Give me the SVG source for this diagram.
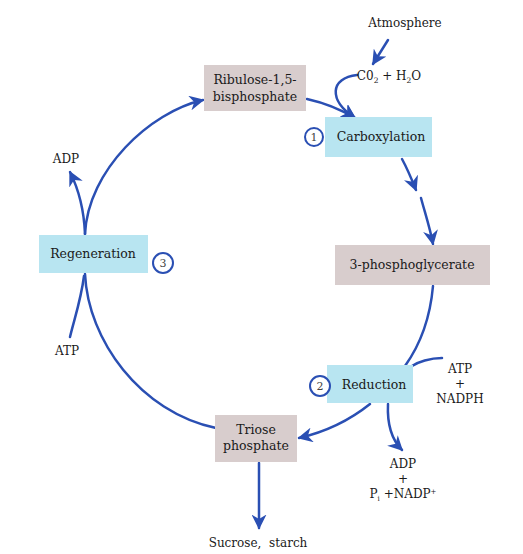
<svg xmlns="http://www.w3.org/2000/svg" width="523" height="554" viewBox="0 0 523 554">
<defs>
<marker id="ah" viewBox="0 0 10 10" refX="9" refY="5" markerWidth="6" markerHeight="6" orient="auto" markerUnits="strokeWidth">
<path d="M0,0 L10,5 L0,10 L3,5 z" fill="#2a4fb3"/>
</marker>
<style>
.t{font-family:"DejaVu Serif","Liberation Serif",serif;font-size:12.5px;fill:#1a1a1a;text-anchor:middle}
.s{font-family:"DejaVu Serif","Liberation Serif",serif;font-size:12px;fill:#1a1a1a;text-anchor:middle}
.grey{fill:#d8cdcd}
.cyan{fill:#b8e5f1}
.c{fill:#fff;stroke:#2a4fb3;stroke-width:2}
.n{font-family:"DejaVu Serif","Liberation Serif",serif;font-size:11px;fill:#444;text-anchor:middle}
.e{fill:none;stroke:#2a4fb3;stroke-width:2.5;stroke-linecap:round}
.ea{fill:none;stroke:#2a4fb3;stroke-width:2.5;stroke-linecap:round;marker-end:url(#ah)}
</style>
</defs>
<rect width="523" height="554" fill="#fff"/>
<g id="connectors">
<path class="ea" d="M388,40 L373,64"/>
<path class="ea" d="M357,75 C330,78 328,100 355,118"/>
<path class="ea" d="M307,99 C325,103 340,109 355,118"/>
<path class="ea" d="M402,159 C408,170 412,180 416,190"/>
<path class="ea" d="M421,198 C425,213 430,228 433,244"/>
<path class="e" d="M433,286 C430,320 420,345 405,366"/>
<path class="e" d="M442,358 C430,358 418,362 412,366"/>
<path class="ea" d="M370,404 C350,420 325,432 299,438"/>
<path class="ea" d="M388,404 C387,425 392,440 402,450"/>
<path class="ea" d="M259,463 L259,528"/>
<path class="e" d="M216,428 C140,412 88,340 85,274"/>
<path class="e" d="M70,337 C74,320 81,300 84,276"/>
<path class="ea" d="M85,234 C88,170 150,112 203,100"/>
<path class="ea" d="M85,234 C84,210 79,190 70,172"/>
</g>
<g id="atmosphere"><text class="s" x="405" y="27">Atmosphere</text></g>
<g id="co2"><text class="s" x="389" y="80">C0<tspan font-size="7.5" dy="3">2</tspan><tspan dy="-3"> + H</tspan><tspan font-size="7.5" dy="3">2</tspan><tspan dy="-3">O</tspan></text></g>
<g id="ribulose">
<rect class="grey" x="204" y="65" width="102" height="46"/>
<text class="t" x="255" y="84">Ribulose-1,5-</text>
<text class="t" x="255" y="101">bisphosphate</text>
</g>
<g id="carboxylation">
<rect class="cyan" x="325" y="117" width="107" height="40"/>
<text class="t" x="381" y="141">Carboxylation</text>
<circle class="c" cx="314" cy="137" r="9"/>
<text class="n" x="314" y="141">1</text>
</g>
<g id="pga">
<rect class="grey" x="335" y="245" width="155" height="40"/>
<text class="t" x="412" y="269">3-phosphoglycerate</text>
</g>
<g id="reduction">
<rect class="cyan" x="327" y="365" width="86" height="38"/>
<text class="t" x="374" y="389">Reduction</text>
<circle class="c" cx="320" cy="386" r="10"/>
<text class="n" x="320" y="390">2</text>
</g>
<g id="atp-nadph">
<text class="s" x="460" y="373">ATP</text>
<text class="s" x="460" y="388">+</text>
<text class="s" x="460" y="403">NADPH</text>
</g>
<g id="adp-nadp">
<text class="s" x="403" y="468">ADP</text>
<text class="s" x="403" y="483">+</text>
<text class="s" x="403" y="498">P<tspan font-size="7" dy="3">i</tspan><tspan dy="-3"> +NADP</tspan><tspan font-size="7" dy="-4">+</tspan></text>
</g>
<g id="triose">
<rect class="grey" x="215" y="415" width="82" height="47"/>
<text class="t" x="256" y="434">Triose</text>
<text class="t" x="256" y="450">phosphate</text>
</g>
<g id="sucrose"><text class="s" x="258" y="547" xml:space="preserve">Sucrose,  starch</text></g>
<g id="regeneration">
<rect class="cyan" x="39" y="235" width="109" height="38"/>
<text class="t" x="93" y="258">Regeneration</text>
<circle class="c" cx="163" cy="263" r="10"/>
<text class="n" x="163" y="267">3</text>
</g>
<g id="adp"><text class="s" x="66" y="163">ADP</text></g>
<g id="atp"><text class="s" x="67" y="355">ATP</text></g>
</svg>
